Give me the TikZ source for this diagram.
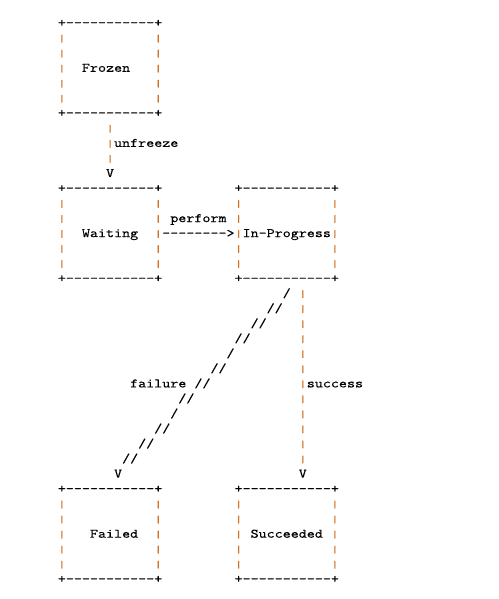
\documentclass[tikz,border=0pt]{standalone}
\usepackage{fontspec}
\usepackage{graphicx}
\newfontfamily\asciifont[FakeStretch=1.177,FakeBold=0.2]{lmmono10-regular.otf}
\definecolor{barorange}{RGB}{210,112,35}

\tikzset{
  ascii/.style={inner sep=0pt, anchor=base west, yshift=-4.4pt,
    font=\asciifont\fontsize{13pt}{15pt}\selectfont, text=black},
  bar/.style={ascii, text=barorange},
}

% one grid step is one character cell
\newcommand{\vbar}{\scalebox{1}[0.78]{|}}
\newcommand{\asciibox}[2]{%
  \node[ascii] at (#1-0.5,#2) {+-----------+};
  \foreach \j in {1,...,5} {
    \node[bar] at (#1-0.5,#2+\j) {\vbar};
    \node[bar] at (#1+11.5,#2+\j) {\vbar};
  }
  \node[ascii] at (#1-0.5,#2+6) {+-----------+};
}

\begin{document}
\begin{tikzpicture}[x=8.03pt,y=-15.03pt]
\useasboundingbox (-61.7pt,22.3pt) rectangle (436.3pt,-576.7pt);

% states
\asciibox{0}{0}
\node[ascii] (frozen) at (2.5,3) {Frozen};
\asciibox{0}{11}
\node[ascii] (waiting) at (2.5,14) {Waiting};
\asciibox{22}{11}
\node[ascii] (inprogress) at (22.5,14) {In-Progress};
\asciibox{0}{31}
\node[ascii] (failed) at (3.5,34) {Failed};
\asciibox{22}{31}
\node[ascii] (succeeded) at (23.5,34) {Succeeded};

% unfreeze
\foreach \j in {7,8,9} \node[bar] at (5.5,\j) {\vbar};
\node[ascii] (unfreeze) at (6.5,8) {unfreeze};
\node[ascii] at (5.5,10) {V};

% perform
\node[ascii] (perform) at (13.5,13) {perform};
\node[ascii] at (12.5,14) {-------->};

% failure
\node[ascii] at (27.5,18) {/};
\node[ascii] at (25.5,19) {//};
\node[ascii] at (23.5,20) {//};
\node[ascii] at (21.5,21) {//};
\node[ascii] at (20.5,22) {/};
\node[ascii] at (18.5,23) {//};
\node[ascii] (failure) at (8.5,24) {failure //};
\node[ascii] at (14.5,25) {//};
\node[ascii] at (13.5,26) {/};
\node[ascii] at (11.5,27) {//};
\node[ascii] at (9.5,28) {//};
\node[ascii] at (7.5,29) {//};
\node[ascii] at (6.5,30) {V};

% success
\foreach \j in {18,...,29} \node[bar] at (29.5,\j) {\vbar};
\node[ascii] (success) at (30.5,24) {success};
\node[ascii] at (29.5,30) {V};
\end{tikzpicture}
\end{document}
